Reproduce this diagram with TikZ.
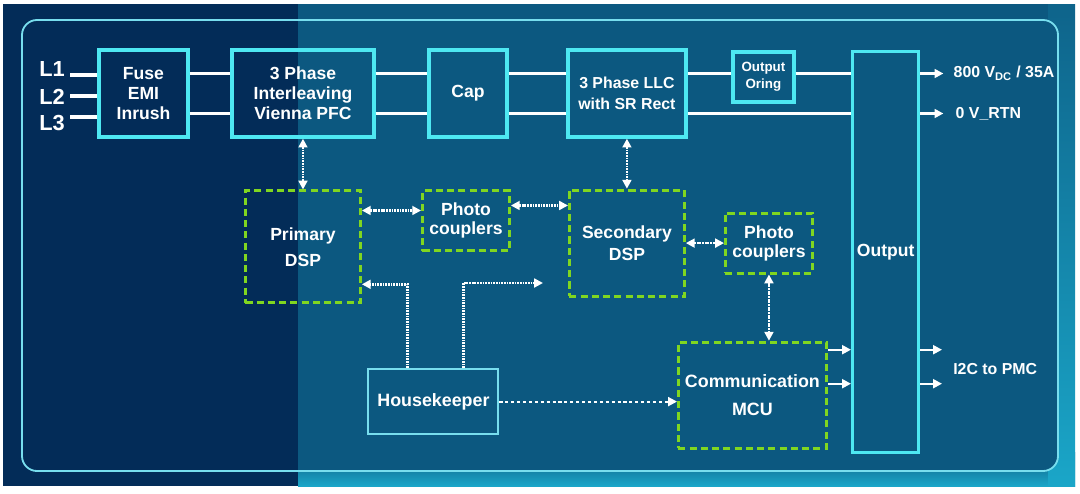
\documentclass[tikz,border=0pt]{standalone}
\usepackage{fontspec}
\setmainfont{Liberation Sans}
\usetikzlibrary{arrows.meta,positioning}
\definecolor{bgnavy}{RGB}{3,44,88}
\definecolor{bgteal}{RGB}{12,88,128}
\definecolor{bgcyan}{RGB}{26,166,200}
\definecolor{framecyan}{RGB}{120,222,238}
\definecolor{boxcyan}{RGB}{78,232,242}
\definecolor{dspgreen}{RGB}{128,214,32}

\begin{document}
\begin{tikzpicture}[
    node distance=1cm,
    pwr/.style={rectangle,draw=boxcyan,line width=2.4pt,inner sep=0pt,align=center,text=white,
      font=\bfseries\fontsize{12.5}{14.2}\selectfont},
    ctl/.style={rectangle,draw=dspgreen,line width=2pt,dash pattern=on 5pt off 3pt,inner sep=0pt,
      align=center,text=white,font=\bfseries\fontsize{12.5}{15.6}\selectfont},
    lbl/.style={inner sep=0pt,text=white,font=\bfseries\fontsize{11.3}{13}\selectfont},
    wire/.style={white,line width=2.6pt},
    link/.style={white,line width=1.8pt,dash pattern=on 1.3pt off 0.6pt,
      {Triangle[length=2.2mm,width=2.2mm]}-{Triangle[length=2.2mm,width=2.2mm]}},
    feed/.style={white,line width=1.8pt,dash pattern=on 1.3pt off 0.6pt,-{Triangle[length=2.2mm,width=2.2mm]}},
    bus/.style={white,line width=1.4pt,dash pattern=on 2.2pt off 2pt,-{Triangle[length=2.2mm,width=2.2mm]}},
    pout/.style={white,line width=1.6pt,-{Triangle[length=2.2mm,width=2.2mm]}}
  ]
    \useasboundingbox (0,0) rectangle (27,-12.325);
    \fill[white] (0,0) rectangle (27,-12.325);
    % background panels
    \fill[bgteal] (7.45,-0.1) rectangle (26.875,-12.15);
    \shade[top color=bgteal,bottom color=bgcyan] (7.45,-11.3) rectangle (26.875,-12.15);
    \shade[top color=bgteal!85!bgcyan,bottom color=bgcyan] (26.2,-0.1) rectangle (26.875,-12.15);
    \fill[bgteal,rounded corners=0.375cm] (7,-0.5) rectangle (26.45,-11.775);
    \fill[bgnavy] (0.075,-0.1) rectangle (7.45,-12.15);
    \draw[framecyan,line width=1.3pt,rounded corners=0.375cm] (0.55,-0.5) rectangle (26.45,-11.775);

    % power path
    \node[pwr,minimum width=2.225cm,minimum height=2.175cm] (fuse) at (3.5875,-2.3375) {Fuse\\EMI\\Inrush};
    \node[pwr,right=1.015cm of fuse,minimum width=3.55cm,minimum height=2.175cm] (pfc) {3 Phase\\Interleaving\\Vienna PFC};
    \node[pwr,right=1.29cm of pfc,minimum width=1.95cm,minimum height=2.175cm] (cap) {Cap};
    \node[pwr,right=1.44cm of cap,minimum width=2.95cm,minimum height=2.175cm,
      font=\bfseries\fontsize{11.3}{14.7}\selectfont] (llc) {3 Phase LLC\\with SR Rect};
    \node[pwr,right=1.09cm of llc.north east,anchor=north west,yshift=-0.05cm,
      minimum width=1.525cm,minimum height=1.25cm,font=\bfseries\fontsize{9.5}{12}\selectfont] (oring) {Output\\Oring};
    \node[pwr,anchor=north west,minimum width=1.65cm,minimum height=10.025cm] (out) at (21.275,-1.25) {Output};

    \node[inner sep=0pt,text=white,font=\bfseries\fontsize{15.5}{16}\selectfont,anchor=east] (L1) at (1.625,-1.7375) {L1};
    \node[inner sep=0pt,text=white,font=\bfseries\fontsize{15.5}{16}\selectfont,anchor=east] (L2) at (1.625,-2.4125) {L2};
    \node[inner sep=0pt,text=white,font=\bfseries\fontsize{15.5}{16}\selectfont,anchor=east] (L3) at (1.625,-3.075) {L3};
    \coordinate (in1) at (1.75,-1.875);
    \coordinate (in2) at (1.75,-2.4);
    \coordinate (in3) at (1.75,-2.925);
    \draw[wire] (in1) -- (in1 -| fuse.west);
    \draw[wire] (in2) -- (in2 -| fuse.west);
    \draw[wire] (in3) -- (in3 -| fuse.west);

    \draw[wire] ([yshift=0.5cm]fuse.east) -- ([yshift=0.5cm]pfc.west);
    \draw[wire] ([yshift=-0.5cm]fuse.east) -- ([yshift=-0.5cm]pfc.west);
    \draw[wire] ([yshift=0.5cm]pfc.east) -- ([yshift=0.5cm]cap.west);
    \draw[wire] ([yshift=-0.5cm]pfc.east) -- ([yshift=-0.5cm]cap.west);
    \draw[wire] ([yshift=0.5cm]cap.east) -- ([yshift=0.5cm]llc.west);
    \draw[wire] ([yshift=-0.5cm]cap.east) -- ([yshift=-0.5cm]llc.west);
    \coordinate (hi) at ([yshift=0.5cm]llc.east);
    \coordinate (lo) at ([yshift=-0.5cm]llc.east);
    \draw[wire] (hi) -- (hi -| oring.west);
    \draw[wire] (hi -| oring.east) -- (hi -| out.west);
    \draw[wire] (lo) -- (lo -| out.west);

    % outputs
    \node[lbl,anchor=west] (vdc) at ([xshift=0.825cm]hi -| out.east) {800 V\textsubscript{DC} / 35A};
    \node[lbl,anchor=west] (rtn) at ([xshift=0.875cm]lo -| out.east) {0 V\_RTN};
    \draw[pout] (hi -| out.east) -- ([xshift=-0.25cm]vdc.west);
    \draw[pout] (lo -| out.east) -- ([xshift=-0.3cm]rtn.west);

    % control path
    \node[ctl,below=1.27cm of pfc,minimum width=2.875cm,minimum height=2.8cm,
      font=\bfseries\fontsize{12.5}{18.5}\selectfont] (pdsp) {Primary\\DSP};
    \node[ctl,right=1.48cm of pdsp.north east,anchor=north west,minimum width=2.175cm,minimum height=1.5cm,
      font=\bfseries\fontsize{12.5}{13.5}\selectfont] (pc1) {Photo\\couplers};
    \node[ctl,below=1.25cm of llc,minimum width=2.875cm,minimum height=2.65cm] (sdsp) {Secondary\\DSP};
    \node[ctl,right=0.955cm of sdsp,minimum width=2.175cm,minimum height=1.5cm,
      font=\bfseries\fontsize{12.5}{13.5}\selectfont] (pc2) {Photo\\couplers};
    \node[ctl,below=1.655cm of pc2,xshift=-0.4125cm,minimum width=3.7cm,minimum height=2.65cm,
      font=\bfseries\fontsize{12.7}{20}\selectfont] (mcu) {Communication\\MCU};
    \node[pwr,left=4.44cm of mcu,yshift=-0.1625cm,line width=1.4pt,draw=framecyan,
      minimum width=3.25cm,minimum height=1.625cm,font=\bfseries\fontsize{12.7}{14}\selectfont] (hk) {Housekeeper};

    \draw[link] (pfc.south) -- (pdsp.north);
    \draw[link] (llc.south) -- (sdsp.north);
    \draw[link] ([yshift=-0.525cm]pdsp.north east) -- ([yshift=-0.525cm]pdsp.north east -| pc1.west);
    \draw[link] ([yshift=-0.4cm]pc1.north east) -- ([yshift=-0.4cm]pc1.north east -| sdsp.west);
    \draw[link] (sdsp.east) -- (sdsp.east -| pc2.west);
    \draw[link] (pc2.south) -- (pc2.south |- mcu.north);
    \coordinate (hkfree) at (13.575,-7.075);
    \draw[feed] ([xshift=-0.65cm]hk.north) |- ([yshift=0.5cm]pdsp.south east);
    \draw[feed] ([xshift=0.75cm]hk.north) |- (hkfree);
    \draw[bus] (hk.east) -- (hk.east -| mcu.west);

    % management bus
    \node[lbl,anchor=west] (i2c) at (23.825,-9.225) {I2C to PMC};
    \coordinate (m1) at ([yshift=-0.225cm]mcu.north east);
    \coordinate (m2) at ([yshift=-1.075cm]mcu.north east);
    \draw[pout] (m1) -- (m1 -| out.west);
    \draw[pout] (m2) -- (m2 -| out.west);
    \draw[pout] (m1 -| out.east) -- ([xshift=-0.275cm]i2c.west |- m1);
    \draw[pout] (m2 -| out.east) -- ([xshift=-0.275cm]i2c.west |- m2);
\end{tikzpicture}
\end{document}
